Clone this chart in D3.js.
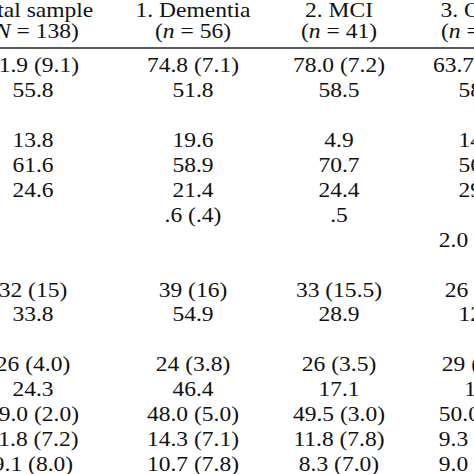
<!DOCTYPE html>
<html><head><meta charset="utf-8">
<script src="https://cdn.jsdelivr.net/npm/d3@7"></script>
<style>body{margin:0;background:#fff}svg{display:block}</style>
</head><body>
<script>
const headers1 = ["Total sample", "1. Dementia", "2. MCI", "3. Other"];
const headers2 = [["N", "138"], ["n", "56"], ["n", "41"], ["n", "41"]];
const col0 = ["71.9 (9.1)", "55.8", "", "13.8", "61.6", "24.6", "", "", "", "32 (15)", "33.8", "", "26 (4.0)", "24.3", "49.0 (2.0)", "11.8 (7.2)", "9.1 (8.0)"];
const col1 = ["74.8 (7.1)", "51.8", "", "19.6", "58.9", "21.4", ".6 (.4)", "", "", "39 (16)", "54.9", "", "24 (3.8)", "46.4", "48.0 (5.0)", "14.3 (7.1)", "10.7 (7.8)"];
const col2 = ["78.0 (7.2)", "58.5", "", "4.9", "70.7", "24.4", ".5", "", "", "33 (15.5)", "28.9", "", "26 (3.5)", "17.1", "49.5 (3.0)", "11.8 (7.8)", "8.3 (7.0)"];
const col3 = ["63.7 (8.5)", "58.5", "", "14.6", "56.1", "29.3", "", "2.0 (1.5)", "", "26 (12)", "12.2", "", "29 (1.0)", "1.0", "50.0 (.5)", "9.3 (6.9)", "9.0 (8.0)"];
const columns = [col0, col1, col2, col3];

const W = 474, H = 474;
const svg = d3.select("body").append("svg").attr("width", W).attr("height", H);
const xs = [33, 193, 339, 479];
const y = d3.scaleLinear().domain([0, 16]).range([65, 464]);

const g = svg.append("g").style("font-family", "'Liberation Serif', 'Times New Roman', serif")
  .attr("font-size", 21).attr("fill", "#111");

function place(sel, cx, cy) {
  sel.attr("transform", `translate(${cx},${cy}) scale(1.12,1)`)
     .attr("text-anchor", "middle").attr("dominant-baseline", "central");
}

headers1.forEach((h, i) => place(g.append("text").text(h), xs[i], 10));
headers2.forEach((h, i) => {
  const t = g.append("text");
  place(t, xs[i], 30);
  t.append("tspan").text("(");
  t.append("tspan").attr("font-style", "italic").text(h[0]);
  t.append("tspan").text(" = " + h[1] + ")");
});

svg.append("line").attr("x1", 0).attr("x2", W).attr("y1", 48).attr("y2", 48)
  .attr("stroke", "#222").attr("stroke-width", 1.5);

columns.forEach((col, ci) => {
  col.forEach((v, ri) => {
    if (!v) return;
    place(g.append("text").text(v), xs[ci], y(ri));
  });
});
</script>
</body></html>
